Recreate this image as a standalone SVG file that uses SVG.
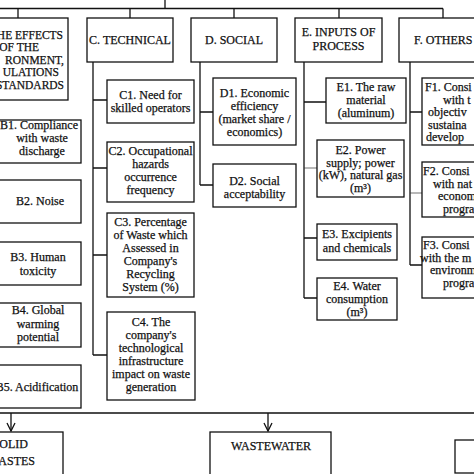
<svg xmlns="http://www.w3.org/2000/svg" width="474" height="474" viewBox="0 0 474 474">
<style>
.box{fill:#fff;stroke:#111;stroke-width:1.3}
.t{font-family:"Liberation Serif","Times New Roman",serif;font-size:12px;fill:#111;text-anchor:middle;stroke:#111;stroke-width:0.25}
.h{font-size:11.5px}
.s{text-anchor:start}
.e{text-anchor:end}
.ln{fill:none;stroke:#111;stroke-width:1.3}
.thin{fill:none;stroke:#333;stroke-width:0.7}
</style>
<rect x="0" y="0" width="474" height="474" fill="#fff"/>
<g id="connectors">
<path class="ln" d="M0 8.5 H443 M165 0 V8.5 M18 8.5 V18 M130 8.5 V18 M234 8.5 V18 M339 8.5 V18 M443 8.5 V18"/>
<path class="ln" d="M93 62 V355 M93 100 H107 M93 168 H107 M93 255 H107 M93 355 H107"/>
<path class="ln" d="M200 62 V185 M200 112 H213 M200 185 H213"/>
<path class="ln" d="M304 62 V298 M304 102 H326 M304 238 H317 M304 298 H317"/>
<path class="thin" d="M304 168 H317"/>
<path class="ln" d="M410 62 V265 M410 112 H422 M410 265 H422"/>
<path class="thin" d="M410 193 H422"/>
<path class="ln" d="M0 413 H474 M11 413 V431 M268 413 V431"/>
<path class="ln" d="M7 423 L11 431 L15 423 M264 423 L268 431 L272 423"/>
</g>
<g id="B">
<rect class="box" x="-5" y="18" width="73" height="82"/>
<text class="t h e" x="63" y="38.5">HE EFFECTS</text>
<text class="t h e" x="39" y="51">OF THE</text>
<text class="t h e" x="64" y="63.5">RONMENT,</text>
<text class="t h e" x="59" y="76">ULATIONS</text>
<text class="t h e" x="64" y="88.5">STANDARDS</text>
</g>
<g id="C">
<rect class="box" x="87" y="18" width="86" height="44"/>
<text class="t" x="130" y="44">C. TECHNICAL</text>
</g>
<g id="D">
<rect class="box" x="191" y="18" width="86" height="44"/>
<text class="t" x="234" y="44">D. SOCIAL</text>
</g>
<g id="E">
<rect class="box" x="295" y="18" width="87" height="44"/>
<text class="t" x="338.5" y="36">E. INPUTS OF</text>
<text class="t" x="338.5" y="50">PROCESS</text>
</g>
<g id="F">
<rect class="box" x="399" y="18" width="90" height="44"/>
<text class="t s" x="414" y="44">F. OTHERS</text>
</g>
<g id="B1">
<rect class="box" x="-5" y="120" width="86" height="43"/>
<text class="t" x="39" y="129">B1. Compliance</text>
<text class="t" x="42" y="142">with waste</text>
<text class="t" x="42" y="155">discharge</text>
</g>
<g id="B2">
<rect class="box" x="-5" y="180" width="86" height="43"/>
<text class="t" x="40" y="205">B2. Noise</text>
</g>
<g id="B3">
<rect class="box" x="-5" y="242" width="86" height="43"/>
<text class="t" x="38" y="261">B3. Human</text>
<text class="t" x="38" y="275">toxicity</text>
</g>
<g id="B4">
<rect class="box" x="-5" y="303" width="86" height="44"/>
<text class="t" x="38" y="314">B4. Global</text>
<text class="t" x="38" y="328">warming</text>
<text class="t" x="38" y="341">potential</text>
</g>
<g id="B5">
<rect class="box" x="-5" y="365" width="86" height="43"/>
<text class="t" x="37" y="391">B5. Acidification</text>
</g>
<g id="C1">
<rect class="box" x="107" y="80" width="87" height="43"/>
<text class="t" x="150.5" y="99">C1. Need for</text>
<text class="t" x="150.5" y="112">skilled operators</text>
</g>
<g id="C2">
<rect class="box" x="107" y="142" width="87" height="60"/>
<text class="t" x="150.5" y="155">C2. Occupational</text>
<text class="t" x="150.5" y="168">hazards</text>
<text class="t" x="150.5" y="181">occurrence</text>
<text class="t" x="150.5" y="194">frequency</text>
</g>
<g id="C3">
<rect class="box" x="107" y="213" width="87" height="84"/>
<text class="t" x="150.5" y="226">C3. Percentage</text>
<text class="t" x="150.5" y="239">of Waste which</text>
<text class="t" x="150.5" y="252">Assessed in</text>
<text class="t" x="150.5" y="265">Company's</text>
<text class="t" x="150.5" y="278">Recycling</text>
<text class="t" x="150.5" y="291">System  (%)</text>
</g>
<g id="C4">
<rect class="box" x="107" y="312" width="88" height="88"/>
<text class="t" x="151" y="326">C4. The</text>
<text class="t" x="151" y="339">company's</text>
<text class="t" x="151" y="352">technological</text>
<text class="t" x="151" y="365">infrastructure</text>
<text class="t" x="151" y="378">impact on waste</text>
<text class="t" x="151" y="391">generation</text>
</g>
<g id="D1">
<rect class="box" x="213" y="78" width="83" height="67"/>
<text class="t" x="254.5" y="97">D1. Economic</text>
<text class="t" x="254.5" y="110">efficiency</text>
<text class="t" x="254.5" y="123">(market share /</text>
<text class="t" x="254.5" y="136">economics)</text>
</g>
<g id="D2">
<rect class="box" x="213" y="164" width="83" height="43"/>
<text class="t" x="254.5" y="185">D2. Social</text>
<text class="t" x="254.5" y="198">acceptability</text>
</g>
<g id="E1">
<rect class="box" x="326" y="78" width="80" height="45"/>
<text class="t" x="366" y="91">E1. The raw</text>
<text class="t" x="366" y="104">material</text>
<text class="t" x="366" y="117">(aluminum)</text>
</g>
<g id="E2">
<rect class="box" x="317" y="140" width="87" height="57"/>
<text class="t" x="360.5" y="153.5">E2. Power</text>
<text class="t" x="360.5" y="166.5">supply; power</text>
<text class="t" x="360.5" y="179">(kW), natural gas</text>
<text class="t" x="360.5" y="192">(m³)</text>
</g>
<g id="E3">
<rect class="box" x="317" y="224" width="80" height="36"/>
<text class="t" x="357" y="238">E3. Excipients</text>
<text class="t" x="357" y="251.5">and chemicals</text>
</g>
<g id="E4">
<rect class="box" x="317" y="278" width="80" height="42"/>
<text class="t" x="357" y="290">E4. Water</text>
<text class="t" x="357" y="303">consumption</text>
<text class="t" x="357" y="316">(m³)</text>
</g>
<g id="F1">
<rect class="box" x="422" y="78" width="60" height="67"/>
<text class="t s" x="425" y="91">F1. Consi</text>
<text class="t s" x="443" y="103.5">with t</text>
<text class="t s" x="428" y="116">objectiv</text>
<text class="t s" x="428" y="128.5">sustaina</text>
<text class="t s" x="426" y="141">develop</text>
</g>
<g id="F2">
<rect class="box" x="422" y="162" width="60" height="55"/>
<text class="t s" x="423" y="175">F2. Consi</text>
<text class="t s" x="433" y="187.5">with nat</text>
<text class="t s" x="438" y="200">econom</text>
<text class="t s" x="443" y="212.5">progra</text>
</g>
<g id="F3">
<rect class="box" x="422" y="237" width="60" height="61"/>
<text class="t s" x="423" y="249">F3. Consi</text>
<text class="t s" x="420" y="261.5">with the m</text>
<text class="t s" x="430" y="274">environm</text>
<text class="t s" x="443" y="286.5">progra</text>
</g>
<g id="SOLID">
<rect class="box" x="-5" y="432" width="68" height="50"/>
<text class="t e" x="28" y="448">OLID</text>
<text class="t e" x="35" y="465">ASTES</text>
</g>
<g id="WASTEWATER">
<rect class="box" x="210" y="432" width="121" height="50"/>
<text class="t" x="271" y="450">WASTEWATER</text>
</g>
<g id="other">
<rect class="box" x="455" y="440" width="30" height="33"/>
</g>
</svg>
